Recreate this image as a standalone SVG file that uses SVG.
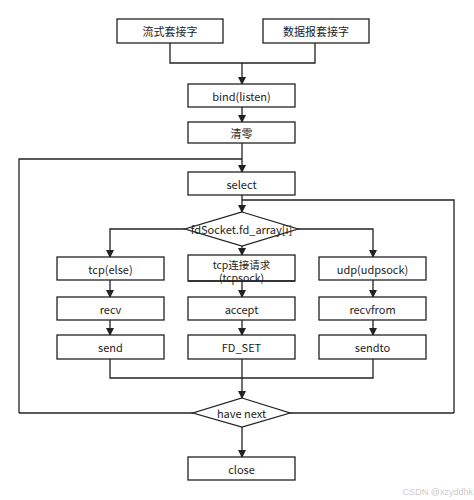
<svg xmlns="http://www.w3.org/2000/svg" width="474" height="500" viewBox="0 0 474 500">
<defs>
<marker id="ah" markerWidth="8" markerHeight="8" refX="7" refY="4" orient="auto" markerUnits="userSpaceOnUse">
<path d="M0,0 L8,4 L0,8 Z" fill="#222"/>
</marker>
<style>
.n{fill:#fff;stroke:#222;stroke-width:1.3}
.t{font-family:"Noto Sans CJK SC","Noto Sans",sans-serif;font-size:11px;fill:#222;text-anchor:middle;dominant-baseline:central}
.s{font-size:10.5px}
.c{fill:none;stroke:#222;stroke-width:1.3}
.w{font-family:"Liberation Sans",sans-serif;font-size:9px;fill:#ccc;text-anchor:end}
</style>
</defs>
<rect width="474" height="500" fill="#fff"/>
<g id="connectors">
<path class="c" d="M170,43 V63 H315 V43"/>
<path class="c" d="M242,63 V84" marker-end="url(#ah)"/>
<path class="c" d="M242,107 V122" marker-end="url(#ah)"/>
<path class="c" d="M242,143 V172" marker-end="url(#ah)"/>
<path class="c" d="M19,413 V159 H242"/>
<path class="c" d="M242,195 V212" marker-end="url(#ah)"/>
<path class="c" d="M454,413 V200 H242"/>
<path class="c" d="M185,229 H110 V257" marker-end="url(#ah)"/>
<path class="c" d="M298,229 H373 V257" marker-end="url(#ah)"/>
<path class="c" d="M242,246 V255" marker-end="url(#ah)"/>
<path class="c" d="M110,280 V297" marker-end="url(#ah)"/>
<path class="c" d="M242,281 V297" marker-end="url(#ah)"/>
<path class="c" d="M373,280 V297" marker-end="url(#ah)"/>
<path class="c" d="M110,320 V335" marker-end="url(#ah)"/>
<path class="c" d="M242,320 V335" marker-end="url(#ah)"/>
<path class="c" d="M373,320 V335" marker-end="url(#ah)"/>
<path class="c" d="M110,359 V378 H373 V359"/>
<path class="c" d="M242,359 V398" marker-end="url(#ah)"/>
<path class="c" d="M19,413 H193"/>
<path class="c" d="M454,413 H290"/>
<path class="c" d="M242,427 V457" marker-end="url(#ah)"/>
</g>
<g id="stream"><rect class="n" x="117" y="19" width="106" height="24"/><text class="t" x="170" y="31">流式套接字</text></g>
<g id="dgram"><rect class="n" x="263" y="19" width="106" height="24"/><text class="t" x="316" y="31">数据报套接字</text></g>
<g id="bind"><rect class="n" x="188" y="84" width="107" height="23"/><text class="t" x="241.5" y="95.5">bind(listen)</text></g>
<g id="clear"><rect class="n" x="188" y="122" width="107" height="21"/><text class="t" x="241.5" y="132.5">清零</text></g>
<g id="select"><rect class="n" x="188" y="172" width="107" height="23"/><text class="t" x="241.5" y="183.5">select</text></g>
<g id="fdarray"><polygon class="n" points="242,212 298,229 242,246 185,229"/><text class="t" x="241.5" y="229">fdSocket.fd_array[i]</text></g>
<g id="tcpelse"><rect class="n" x="57" y="257" width="107" height="23"/><text class="t" x="110.5" y="268.5">tcp(else)</text></g>
<g id="tcpconn"><rect class="n" x="188" y="255" width="107" height="26"/><text class="t s" x="241.5" y="264.5">tcp连接请求</text><text class="t s" x="241.5" y="277.5">(tcpsock)</text><line class="c" x1="188" y1="281" x2="295" y2="281"/></g>
<g id="udp"><rect class="n" x="319" y="257" width="107" height="23"/><text class="t" x="372.5" y="268.5">udp(udpsock)</text></g>
<g id="recv"><rect class="n" x="57" y="297" width="107" height="23"/><text class="t" x="110.5" y="308.5">recv</text></g>
<g id="accept"><rect class="n" x="188" y="297" width="107" height="23"/><text class="t" x="241.5" y="308.5">accept</text></g>
<g id="recvfrom"><rect class="n" x="319" y="297" width="107" height="23"/><text class="t" x="372.5" y="308.5">recvfrom</text></g>
<g id="send"><rect class="n" x="57" y="335" width="107" height="24"/><text class="t" x="110.5" y="347">send</text></g>
<g id="fdset"><rect class="n" x="188" y="335" width="107" height="24"/><text class="t" x="241.5" y="347">FD_SET</text></g>
<g id="sendto"><rect class="n" x="319" y="335" width="107" height="24"/><text class="t" x="372.5" y="347">sendto</text></g>
<g id="havenext"><polygon class="n" points="242,398 290,413 242,427 193,413"/><text class="t" x="241.5" y="413">have next</text></g>
<g id="close"><rect class="n" x="188" y="457" width="107" height="23"/><text class="t" x="241.5" y="468.5">close</text></g>
<text class="w" x="473" y="495">CSDN @xzyddhk</text>
</svg>
